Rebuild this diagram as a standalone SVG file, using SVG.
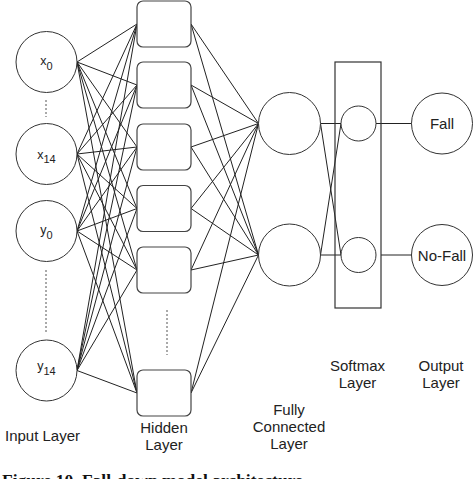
<svg xmlns="http://www.w3.org/2000/svg" width="474" height="479" viewBox="0 0 474 479">
<style>
.n{fill:#fff;stroke:#333;stroke-width:1}
.b{fill:#fff;stroke:#444;stroke-width:1.2}
.c line{stroke:#222;stroke-width:1}
.d{stroke:#555;stroke-width:1;stroke-dasharray:2 2;fill:none}
text{font-family:"Liberation Sans",Arial,sans-serif;fill:#222}
.l{font-size:15px;text-anchor:middle}
.s{font-size:12.5px;text-anchor:middle}
.cap{font-family:"Liberation Serif","Times New Roman",serif;font-weight:bold;font-size:17.5px;fill:#111}
</style>
<rect width="474" height="479" fill="#fff"/>
<g id="connectors" class="c">
<line x1="77" y1="62" x2="137" y2="24"/><line x1="77" y1="62" x2="137" y2="85"/><line x1="77" y1="62" x2="137" y2="147"/><line x1="77" y1="62" x2="137" y2="208.5"/><line x1="77" y1="62" x2="137" y2="270"/><line x1="77" y1="62" x2="137" y2="393"/>
<line x1="77" y1="154" x2="137" y2="24"/><line x1="77" y1="154" x2="137" y2="85"/><line x1="77" y1="154" x2="137" y2="147"/><line x1="77" y1="154" x2="137" y2="208.5"/><line x1="77" y1="154" x2="137" y2="270"/><line x1="77" y1="154" x2="137" y2="393"/>
<line x1="77" y1="231" x2="137" y2="24"/><line x1="77" y1="231" x2="137" y2="85"/><line x1="77" y1="231" x2="137" y2="147"/><line x1="77" y1="231" x2="137" y2="208.5"/><line x1="77" y1="231" x2="137" y2="270"/><line x1="77" y1="231" x2="137" y2="393"/>
<line x1="77" y1="370.5" x2="137" y2="24"/><line x1="77" y1="370.5" x2="137" y2="85"/><line x1="77" y1="370.5" x2="137" y2="147"/><line x1="77" y1="370.5" x2="137" y2="208.5"/><line x1="77" y1="370.5" x2="137" y2="270"/><line x1="77" y1="370.5" x2="137" y2="393"/>
<line x1="191" y1="24" x2="258.5" y2="123.5"/><line x1="191" y1="85" x2="258.5" y2="123.5"/><line x1="191" y1="147" x2="258.5" y2="123.5"/><line x1="191" y1="208.5" x2="258.5" y2="123.5"/><line x1="191" y1="270" x2="258.5" y2="123.5"/><line x1="191" y1="393" x2="258.5" y2="123.5"/>
<line x1="191" y1="24" x2="258.5" y2="255"/><line x1="191" y1="85" x2="258.5" y2="255"/><line x1="191" y1="147" x2="258.5" y2="255"/><line x1="191" y1="208.5" x2="258.5" y2="255"/><line x1="191" y1="270" x2="258.5" y2="255"/><line x1="191" y1="393" x2="258.5" y2="255"/>
<line x1="320.5" y1="123.5" x2="341" y2="123.5"/><line x1="320.5" y1="123.5" x2="341" y2="255"/>
<line x1="320.5" y1="255" x2="341" y2="255"/><line x1="320.5" y1="255" x2="341" y2="123.5"/>
<line x1="376" y1="123.5" x2="412" y2="123.5"/><line x1="381" y1="255" x2="412" y2="255"/>
</g>
<g id="input-x0"><circle class="n" cx="46.5" cy="62" r="30.5"/><text class="s" x="46.5" y="65">x<tspan font-size="11" dy="5">0</tspan></text></g>
<line id="dots-x" class="d" x1="46" y1="100" x2="46" y2="117"/>
<g id="input-x14"><circle class="n" cx="46.5" cy="154" r="30.5"/><text class="s" x="46.5" y="158.5">x<tspan font-size="11" dy="4">14</tspan></text></g>
<g id="input-y0"><circle class="n" cx="46.5" cy="231" r="30.5"/><text class="s" x="46.5" y="234">y<tspan font-size="11" dy="5">0</tspan></text></g>
<line id="dots-y" class="d" x1="46" y1="270" x2="46" y2="332"/>
<g id="input-y14"><circle class="n" cx="46.5" cy="370.5" r="30.5"/><text class="s" x="46.5" y="370">y<tspan font-size="11" dy="4.5">14</tspan></text></g>
<g id="hidden-1"><rect class="b" x="137" y="1" width="54" height="46" rx="6"/></g>
<g id="hidden-2"><rect class="b" x="137" y="62" width="54" height="46" rx="6"/></g>
<g id="hidden-3"><rect class="b" x="137" y="124" width="54" height="46" rx="6"/></g>
<g id="hidden-4"><rect class="b" x="137" y="185.5" width="54" height="46" rx="6"/></g>
<g id="hidden-5"><rect class="b" x="137" y="247" width="54" height="46" rx="6"/></g>
<line id="dots-h" class="d" x1="167" y1="310" x2="167" y2="355"/>
<g id="hidden-6"><rect class="b" x="137" y="370" width="54" height="46" rx="6"/></g>
<g id="fc-1"><circle class="n" cx="289.5" cy="123.5" r="31"/></g>
<g id="fc-2"><circle class="n" cx="289.5" cy="255" r="31"/></g>
<g id="softmax"><rect x="335" y="62" width="46" height="246" fill="none" stroke="#333" stroke-width="1.2"/></g>
<g id="softmax-1"><circle class="n" cx="358.5" cy="123.5" r="17.5"/></g>
<g id="softmax-2"><circle class="n" cx="358.5" cy="255" r="17.5"/></g>
<g id="out-fall"><circle class="n" cx="442" cy="123.5" r="30.5"/><text class="l" x="442" y="129">Fall</text></g>
<g id="out-nofall"><circle class="n" cx="442" cy="255" r="30.5"/><text class="l" x="442" y="260.5">No-Fall</text></g>
<g id="labels">
<text class="l" x="42.5" y="441">Input Layer</text>
<text class="l" x="164" y="432.5">Hidden</text><text class="l" x="164" y="449.5">Layer</text>
<text class="l" x="289" y="415">Fully</text><text class="l" x="289" y="432">Connected</text><text class="l" x="289" y="449">Layer</text>
<text class="l" x="357.5" y="371">Softmax</text><text class="l" x="357.5" y="388">Layer</text>
<text class="l" x="441" y="371">Output</text><text class="l" x="441" y="388">Layer</text>
</g>
<text class="cap" x="2" y="486">Figure 10. Fall-down model architecture</text>
</svg>
